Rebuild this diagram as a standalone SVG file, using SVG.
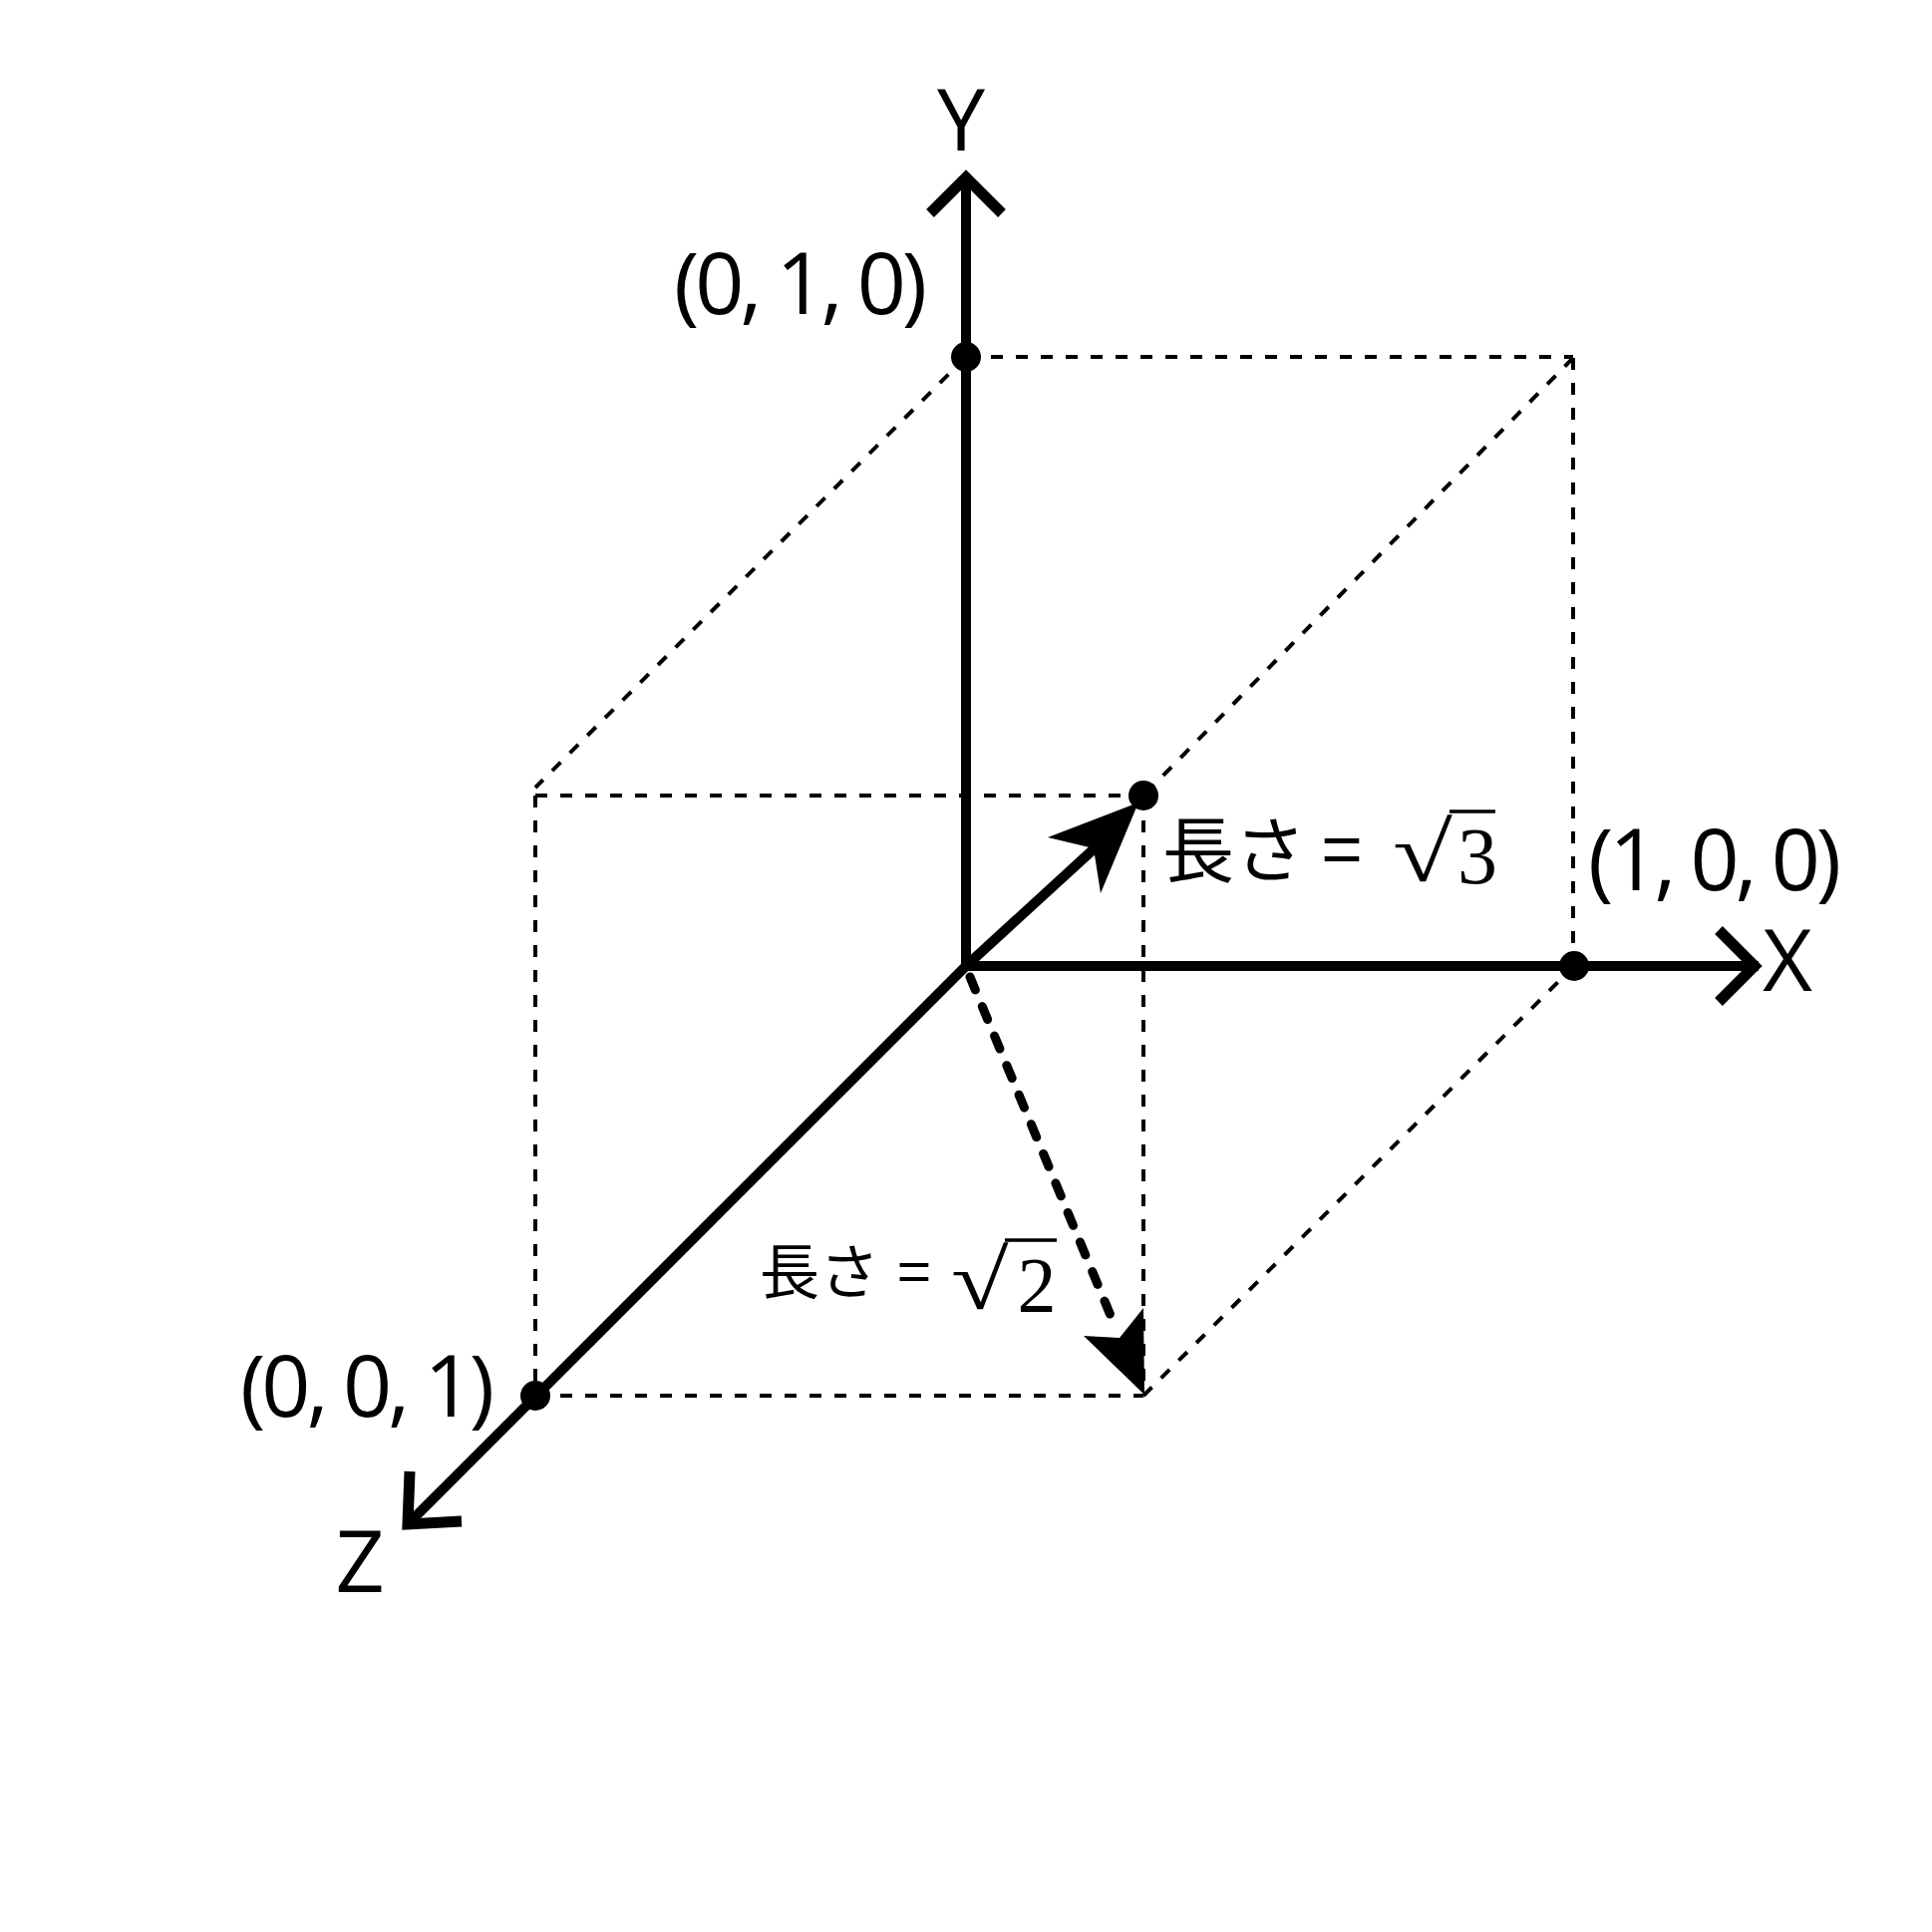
<svg xmlns="http://www.w3.org/2000/svg" width="1938" height="1938" viewBox="0 0 1938 1938">
<style>
.axis{stroke:#000;stroke-width:10;fill:none}
.head{stroke:#000;stroke-width:11;fill:none;stroke-linejoin:miter;stroke-linecap:butt}
.cube{stroke:#000;stroke-width:4;fill:none;stroke-dasharray:12 13}
.vec{stroke:#000;stroke-width:10;fill:none}
.vecd{stroke:#000;stroke-width:9;fill:none;stroke-dasharray:14 18;stroke-linecap:round}
.dot{fill:#000}
.lbl{font-family:"Open Sans","Liberation Sans",sans-serif;font-size:86px;fill:#000}
.jp{font-family:"Noto Sans CJK JP","Noto Sans CJK SC",sans-serif;fill:#000}
.math{font-family:"Liberation Serif","DejaVu Serif",serif;fill:#000}
.bar{stroke:#000;stroke-width:3.5}
</style>
<rect width="1938" height="1938" fill="#fff"/>
<g id="cube-edges">
<line class="cube" x1="969" y1="358" x2="1578" y2="358"/>
<line class="cube" x1="969" y1="358" x2="537" y2="790"/>
<line class="cube" x1="1578" y1="359" x2="1147" y2="798"/>
<line class="cube" x1="537" y1="798" x2="1147" y2="798"/>
<line class="cube" x1="537" y1="798" x2="537" y2="1400"/>
<line class="cube" x1="1578" y1="359" x2="1578" y2="969"/>
<line class="cube" x1="1147" y1="798" x2="1147" y2="1400"/>
<line class="cube" x1="537" y1="1400" x2="1147" y2="1400"/>
<line class="cube" x1="1147" y1="1400" x2="1579" y2="969"/>
</g>
<g id="axes">
<line class="axis" x1="969" y1="969" x2="969" y2="175"/>
<polyline class="head" points="933,214 969,178 1005,214"/>
<line class="axis" x1="969" y1="969" x2="1764" y2="969"/>
<polyline class="head" points="1724,933 1760,969 1724,1005"/>
<line class="axis" x1="969" y1="969" x2="411" y2="1527"/>
<polyline class="head" points="411,1476 409,1529 463,1526"/>
</g>
<g id="vectors">
<line class="vec" x1="969" y1="969" x2="1099" y2="850"/>
<polygon class="dot" points="1142,805 1051,840 1097,851 1104,896"/>
<line class="vecd" x1="973" y1="980" x2="1120" y2="1334"/>
<polygon class="dot" points="1148,1399 1087,1340 1123,1342 1147,1312"/>
</g>
<g id="points">
<circle class="dot" cx="969" cy="358" r="15"/>
<circle class="dot" cx="1579" cy="969" r="15"/>
<circle class="dot" cx="537" cy="1400" r="15"/>
<circle class="dot" cx="1147" cy="798" r="15"/>
</g>
<g id="labels">
<text class="lbl" x="964" y="151" text-anchor="middle" font-size="85">Y</text>
<text class="lbl" x="1793" y="994" text-anchor="middle" font-size="85">X</text>
<text class="lbl" x="361" y="1597" text-anchor="middle" font-size="85">Z</text>
<text class="lbl" x="676" y="315" textLength="254" lengthAdjust="spacing">(0, 1, 0)</text>
<text class="lbl" x="1593" y="893" textLength="254" lengthAdjust="spacing">(1, 0, 0)</text>
<text class="lbl" x="241" y="1421" textLength="255" lengthAdjust="spacing">(0, 0, 1)</text>
</g>
<g id="len3">
<text class="jp" x="1166" y="879" font-size="72">長さ</text>
<text class="jp" x="1346" y="879" font-size="72" text-anchor="middle">=</text>
<text class="math" transform="translate(1397,884) scale(1.3,1)" font-size="84">√</text>
<line class="bar" x1="1454" y1="814" x2="1500" y2="814"/>
<text class="math" x="1482" y="886" font-size="80" text-anchor="middle">3</text>
</g>
<g id="len2">
<text class="jp" x="762" y="1298" font-size="60">長さ</text>
<text class="jp" x="917" y="1298" font-size="60" text-anchor="middle">=</text>
<text class="math" transform="translate(954,1313) scale(1.25,1)" font-size="84">√</text>
<line class="bar" x1="1008" y1="1244" x2="1060" y2="1244"/>
<text class="math" x="1040" y="1315" font-size="78" text-anchor="middle">2</text>
</g>
</svg>
